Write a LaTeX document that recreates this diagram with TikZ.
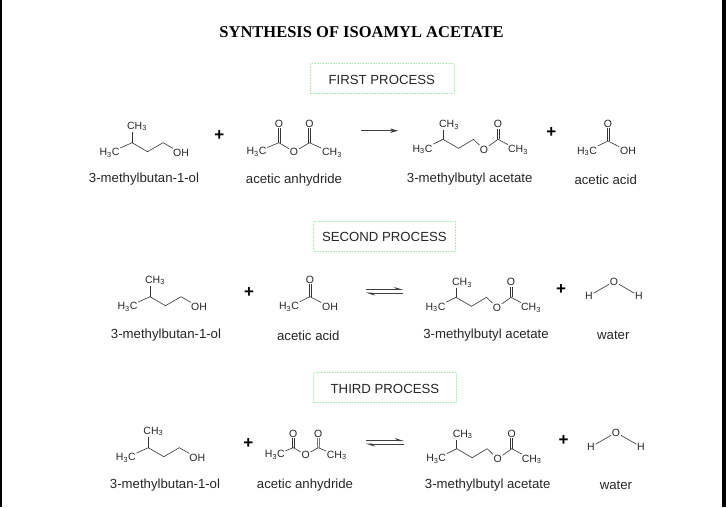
\documentclass[tikz,border=0pt]{standalone}
\usepackage{fontspec}
\setmainfont{Liberation Sans}
\newfontfamily\titlefont{Liberation Serif}
\usepackage{tikz}
\usetikzlibrary{arrows.meta}

\definecolor{boxgreen}{RGB}{170,235,175}
\newcommand{\dblbond}[2]{
	\path[bond, transform canvas={xshift=-1pt}] (#1) -- (#2);
	\path[bond, transform canvas={xshift=1pt}] (#1) -- (#2);
}

\tikzset{
	atom/.style = {font=\fontsize{10.5}{12}\selectfont, inner sep=.6pt, yshift=-.7pt, text=black!85},
	bond/.style = {draw=black!80, line width=.6pt},
	name label/.style = {font=\fontsize{13.2}{15}\selectfont, text=black!85},
	process/.style = {draw=boxgreen, line width=.6pt, densely dotted, font=\fontsize{13.2}{15}\selectfont, text=black!85, anchor=north west, inner sep=0pt, align=center, text height=11.5pt, text depth=0pt},
	sign/.style = {font=\bfseries\fontsize{17}{18}\selectfont, inner sep=0pt, yshift=-1.5pt},
	fwd/.style = {draw=black!75, line width=.6pt, -{Stealth[length=8pt,width=4.5pt]}},
	eqline/.style = {draw=black!75, line width=.6pt, -{Stealth[length=8pt,width=5pt,harpoon]}},
	% molecules, origin at the first carbon
	alcohol/.pic = {
		\coordinate (c1) at (0,0);
		\coordinate (c2) at (15.5,9);
		\coordinate (c3) at (31,0);
		\node[atom] (me) at (5,-17) {CH\textsubscript{3}};
		\node[atom] (left) at (-22.5,9.5) {H\textsubscript{3}C};
		\node[atom] (oh) at (49,9.5) {OH};
		\path[bond] (left) -- (c1) -- (c2) -- (c3) -- (oh);
		\path[bond] (c1) -- (0,-11);
	},
	anhydride/.pic = {
		\coordinate (c1) at (0,0);
		\coordinate (c2) at (30.5,0);
		\node[atom] (left) at (-22.5,8.5) {H\textsubscript{3}C};
		\node[atom] (ox) at (15,8.5) {O};
		\node[atom] (right) at (53,9.5) {CH\textsubscript{3}};
		\node[atom] (o1) at (0,-20) {O};
		\node[atom] (o2) at (30.5,-20) {O};
		\path[bond] (left) -- (c1) -- (ox) -- (c2) -- (right);
		\dblbond{c1}{o1}
		\dblbond{c2}{o2}
	},
	ester/.pic = {
		\coordinate (c1) at (0,0);
		\coordinate (c2) at (15.5,9);
		\coordinate (c3) at (30.5,0);
		\coordinate (c4) at (55,0);
		\node[atom] (me) at (6,-15) {CH\textsubscript{3}};
		\node[atom] (left) at (-20.5,9.5) {H\textsubscript{3}C};
		\node[atom] (ox) at (41,9.5) {O};
		\node[atom] (right) at (75,10) {CH\textsubscript{3}};
		\node[atom] (o1) at (55,-16) {O};
		\path[bond] (left) -- (c1) -- (c2) -- (c3) -- (ox) -- (c4) -- (right);
		\path[bond] (c1) -- (0,-9);
		\dblbond{c4}{o1}
	},
	acid/.pic = {
		\coordinate (c1) at (0,0);
		\node[atom] (left) at (-21,9.5) {H\textsubscript{3}C};
		\node[atom] (oh) at (20,9.5) {OH};
		\node[atom] (o1) at (0,-18) {O};
		\path[bond] (left) -- (c1) -- (oh);
		\dblbond{c1}{o1}
	},
	water/.pic = {
		\node[atom] (ox) at (0,0) {O};
		\node[atom] (h1) at (-25,14.5) {H};
		\node[atom] (h2) at (25,14.5) {H};
		\path[bond] (h1) -- (ox) -- (h2);
	}
}

\begin{document}
\begin{tikzpicture}[x=1pt, y=-1pt]
	\useasboundingbox (0,0) rectangle (726,507);
	\fill[black] (0,0) rectangle (2,507);
	\fill[black] (722,0) rectangle (726,507);

	\node[font=\titlefont\bfseries\fontsize{16.5}{18}\selectfont] (title) at (361.5,32) {SYNTHESIS OF ISOAMYL ACETATE};

	% first process
	\node[process, minimum width=144pt, minimum height=30pt] (first) at (309.5,63.3) {FIRST PROCESS};
	\pic (al1) at (132,142.7) {alcohol};
	\node[sign] (p1a) at (219.3,134) {+};
	\pic (an1) at (279,142.7) {anhydride};
	\coordinate (a1s) at (361,130.7);
	\coordinate (a1e) at (398,130.7);
	\draw[fwd] (a1s) -- (a1e);
	\pic (es1) at (443,139.3) {ester};
	\node[sign] (p1b) at (551.3,130.7) {+};
	\pic (ac1) at (608,141) {acid};
	\node[name label] (n1a) at (144,178.7) {3-methylbutan-1-ol};
	\node[name label] (n1b) at (294,180) {acetic anhydride};
	\node[name label] (n1c) at (469.7,179.3) {3-methylbutyl acetate};
	\node[name label] (n1d) at (605.7,180) {acetic acid};

	% second process
	\node[process, minimum width=141.5pt, minimum height=29.7pt] (second) at (313.3,221) {SECOND PROCESS};
	\pic (al2) at (150,296.7) {alcohol};
	\node[sign] (p2a) at (249,291) {+};
	\pic (ac2) at (310,296.7) {acid};
	\coordinate (a2s) at (366,289.5);
	\coordinate (a2e) at (403,289.5);
	\coordinate (b2s) at (403,293);
	\coordinate (b2e) at (366,293);
	\draw[eqline] (a2s) -- (a2e);
	\draw[eqline] (b2s) -- (b2e);
	\pic (es2) at (456,297.3) {ester};
	\node[sign] (p2b) at (561,288) {+};
	\pic (wa2) at (614,280.7) {water};
	\node[name label] (n2a) at (166,334.7) {3-methylbutan-1-ol};
	\node[name label] (n2b) at (308.3,336) {acetic acid};
	\node[name label] (n2c) at (486,335.3) {3-methylbutyl acetate};
	\node[name label] (n2d) at (613.3,335) {water};

	% third process
	\node[process, minimum width=142.7pt, minimum height=29.4pt] (third) at (313.3,372.3) {THIRD PROCESS};
	\pic (al3) at (148.3,447.7) {alcohol};
	\node[sign] (p3a) at (248.3,441.7) {+};
	\pic[xscale=.82,yscale=.75] (an3) at (293.3,447.7) {anhydride};
	\coordinate (a3s) at (366,440.7);
	\coordinate (a3e) at (404,440.7);
	\coordinate (b3s) at (404,444);
	\coordinate (b3e) at (366,444);
	\draw[eqline] (a3s) -- (a3e);
	\draw[eqline] (b3s) -- (b3e);
	\pic (es3) at (456.7,448.7) {ester};
	\node[sign] (p3b) at (563.7,439) {+};
	\pic (wa3) at (616,431.7) {water};
	\node[name label] (n3a) at (165,484.7) {3-methylbutan-1-ol};
	\node[name label] (n3b) at (305,484.7) {acetic anhydride};
	\node[name label] (n3c) at (487.7,485.3) {3-methylbutyl acetate};
	\node[name label] (n3d) at (616,485) {water};
\end{tikzpicture}
\end{document}
